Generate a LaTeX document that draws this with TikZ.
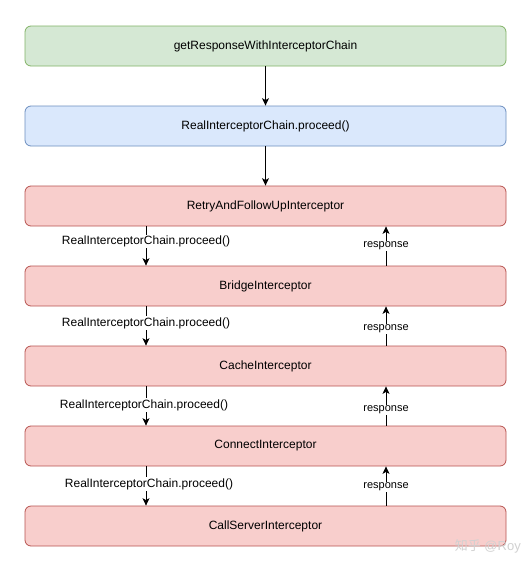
\documentclass[tikz,border=0pt]{standalone}
\usepackage{fontspec}
\setmainfont{Liberation Sans}
\newfontfamily\cjkfont{Noto Sans CJK SC}
\usetikzlibrary{arrows.meta}
\definecolor{gfill}{HTML}{D5E8D4}\definecolor{gline}{HTML}{82B366}
\definecolor{bfill}{HTML}{DAE8FC}\definecolor{bline}{HTML}{6C8EBF}
\definecolor{rfill}{HTML}{F8CECC}\definecolor{rline}{HTML}{B85450}
\tikzset{
  box/.style={rectangle, rounded corners=6pt, minimum width=481pt, minimum height=40pt, inner sep=0pt, font=\fontsize{12}{14}\selectfont, line width=0.8pt},
  gbox/.style={box, fill=gfill, draw=gline},
  bbox/.style={box, fill=bfill, draw=bline},
  rbox/.style={box, fill=rfill, draw=rline},
  arr/.style={-{Stealth[length=7.5pt,width=7pt,inset=2pt]}, line width=0.9pt},
  calllbl/.style={fill=white, inner sep=1pt, font=\fontsize{12}{14}\selectfont},
  resplbl/.style={fill=white, inner sep=1pt, font=\fontsize{11}{13}\selectfont, yshift=-2pt},
}
\begin{document}
\begin{tikzpicture}[x=1pt,y=-1pt]
\useasboundingbox[fill=white] (0,0) rectangle (531,571);
\node[gbox] (g) at (265.5,46) {getResponseWithInterceptorChain};
\node[bbox] (b) at (265.5,126) {RealInterceptorChain.proceed()};
\node[rbox] (r1) at (265.5,206) {RetryAndFollowUpInterceptor};
\node[rbox] (r2) at (265.5,286) {BridgeInterceptor};
\node[rbox] (r3) at (265.5,366) {CacheInterceptor};
\node[rbox] (r4) at (265.5,446) {ConnectInterceptor};
\node[rbox] (r5) at (265.5,526) {CallServerInterceptor};
\coordinate (lx) at (146,0);
\coordinate (rx) at (386,0);
\draw[arr] (g) -- (b);
\draw[arr] (b) -- (r1);
\draw[arr] (r1.south -| lx) -- node[calllbl, pos=0.375] {RealInterceptorChain.proceed()} (r2.north -| lx);
\draw[arr] (r2.south -| lx) -- node[calllbl, pos=0.425] {RealInterceptorChain.proceed()} (r3.north -| lx);
\draw[arr] (r3.south -| lx) -- node[calllbl, pos=0.475, xshift=-2pt] {RealInterceptorChain.proceed()} (r4.north -| lx);
\draw[arr] (r4.south -| lx) -- node[calllbl, pos=0.45, xshift=3pt] {RealInterceptorChain.proceed()} (r5.north -| lx);
\draw[arr] (r2.north -| rx) -- node[resplbl, pos=0.55] {response} (r1.south -| rx);
\draw[arr] (r3.north -| rx) -- node[resplbl, pos=0.475] {response} (r2.south -| rx);
\draw[arr] (r4.north -| rx) -- node[resplbl, pos=0.45] {response} (r3.south -| rx);
\draw[arr] (r5.north -| rx) -- node[resplbl, pos=0.525] {response} (r4.south -| rx);
\node[text=black!18, font=\fontsize{13}{15}\selectfont, anchor=east, inner sep=0pt] (wm) at (521,546) {{\cjkfont 知乎} @Roy};
\end{tikzpicture}
\end{document}
